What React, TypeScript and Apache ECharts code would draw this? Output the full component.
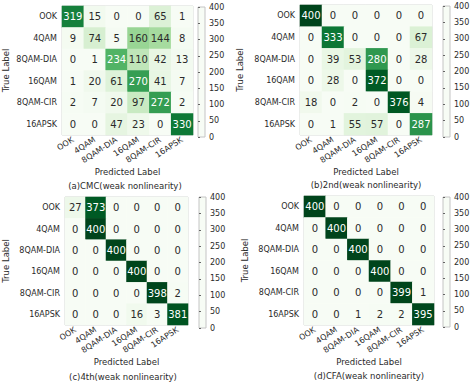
import React, { useEffect, useRef } from "react";
import * as echarts from "echarts";

const classes = ["OOK", "4QAM", "8QAM-DIA", "16QAM", "8QAM-CIR", "16APSK"];
const colorbarTicks = [0, 50, 100, 150, 200, 250, 300, 350, 400];

const cmcValues = [
  [319, 15, 0, 0, 65, 1],
  [9, 74, 5, 160, 144, 8],
  [0, 1, 234, 110, 42, 13],
  [1, 20, 61, 270, 41, 7],
  [2, 7, 20, 97, 272, 2],
  [0, 0, 47, 23, 0, 330],
];
const secondValues = [
  [400, 0, 0, 0, 0, 0],
  [0, 333, 0, 0, 0, 67],
  [0, 39, 53, 280, 0, 28],
  [0, 28, 0, 372, 0, 0],
  [18, 0, 2, 0, 376, 4],
  [0, 1, 55, 57, 0, 287],
];
const fourthValues = [
  [27, 373, 0, 0, 0, 0],
  [0, 400, 0, 0, 0, 0],
  [0, 0, 400, 0, 0, 0],
  [0, 0, 0, 400, 0, 0],
  [0, 0, 0, 0, 398, 2],
  [0, 0, 0, 16, 3, 381],
];
const cfaValues = [
  [400, 0, 0, 0, 0, 0],
  [0, 400, 0, 0, 0, 0],
  [0, 0, 400, 0, 0, 0],
  [0, 0, 0, 400, 0, 0],
  [0, 0, 0, 0, 399, 1],
  [0, 0, 1, 2, 2, 395],
];
const captions = [
  "(a)CMC(weak nonlinearity)",
  "(b)2nd(weak nonlinearity)",
  "(c)4th(weak nonlinearity)",
  "(d)CFA(weak nonlinearity)",
];

const greens = ["#f7fcf5", "#e5f5e0", "#c7e9c0", "#a1d99b", "#74c476", "#41ab5d", "#238b45", "#006d2c", "#00441b"];
const FONT = "DejaVu Sans";
const TXT = "#2a2a2a";

export default function App() {
  const ref = useRef<HTMLDivElement>(null);
  useEffect(() => {
    if (!ref.current) return;
    const chart = echarts.init(ref.current, null, { renderer: "svg" });
    const matrices = [cmcValues, secondValues, fourthValues, cfaValues];
    const layouts = [
      { grid: { left: 57, top: 6, width: 136, height: 129 }, bar: { left: 198, top: 7, width: 7, height: 130 }, yGap: 52, xGap: 32, cap: { x: 125, y: 186 } },
      { grid: { left: 300, top: 5, width: 132, height: 130 }, bar: { left: 443, top: 6, width: 7, height: 131 }, yGap: 56, xGap: 31, cap: { x: 366, y: 185 } },
      { grid: { left: 60, top: 197, width: 128, height: 128 }, bar: { left: 199, top: 197, width: 7, height: 131 }, yGap: 55, xGap: 32, cap: { x: 123, y: 377 } },
      { grid: { left: 304, top: 196, width: 130, height: 129 }, bar: { left: 443, top: 197, width: 7, height: 130 }, yGap: 55, xGap: 31, cap: { x: 369, y: 376 } },
    ];
    const gradStops = greens.map((c, i) => ({ offset: 1 - i / (greens.length - 1), color: c }));
    const grids: any[] = [];
    const xAxes: any[] = [];
    const yAxes: any[] = [];
    const series: any[] = [];
    const graphics: any[] = [];
    layouts.forEach((l, k) => {
      grids.push({ ...l.grid, show: true, borderColor: "#cfcfcf", borderWidth: 1, backgroundColor: "transparent" });
      grids.push({
        ...l.bar,
        show: true,
        borderColor: "#c4c4c4",
        borderWidth: 1,
        backgroundColor: new echarts.graphic.LinearGradient(0, 0, 0, 1, gradStops),
      });
      xAxes.push({
        type: "category",
        gridIndex: 2 * k,
        data: classes,
        axisLine: { show: false },
        axisTick: { show: false },
        splitLine: { show: false },
        axisLabel: { rotate: 33, fontSize: 8, color: TXT, fontFamily: FONT, margin: 4, interval: 0 },
        name: "Predicted Label",
        nameLocation: "middle",
        nameGap: l.xGap,
        nameTextStyle: { fontSize: 8.5, color: TXT, fontFamily: FONT },
      });
      yAxes.push({
        type: "category",
        gridIndex: 2 * k,
        data: classes,
        inverse: true,
        axisLine: { show: false },
        axisTick: { show: false },
        splitLine: { show: false },
        axisLabel: { fontSize: 8, color: TXT, fontFamily: FONT, margin: 5 },
        name: "True Label",
        nameLocation: "middle",
        nameRotate: 90,
        nameGap: l.yGap,
        nameTextStyle: { fontSize: 8.5, color: TXT, fontFamily: FONT },
      });
      xAxes.push({ type: "value", gridIndex: 2 * k + 1, show: false, min: 0, max: 1 });
      yAxes.push({
        type: "value",
        gridIndex: 2 * k + 1,
        position: "right",
        min: 0,
        max: 400,
        interval: 50,
        axisLine: { show: false },
        axisTick: { show: true, length: 2, lineStyle: { color: "#666" } },
        splitLine: { show: false },
        axisLabel: {
          fontSize: 8,
          color: TXT,
          fontFamily: FONT,
          margin: 4,
          formatter: (v: number) => (colorbarTicks.includes(v) ? String(v) : ""),
        },
      });
      const data: any[] = [];
      matrices[k].forEach((row, r) =>
        row.forEach((v, c) =>
          data.push({
            value: [c, r, v],
            label: { color: v > 200 ? "#ffffff" : TXT },
          })
        )
      );
      series.push({
        type: "heatmap",
        xAxisIndex: 2 * k,
        yAxisIndex: 2 * k,
        data,
        label: { show: true, fontSize: 10, fontFamily: FONT },
        itemStyle: { borderWidth: 0 },
        emphasis: { disabled: true },
      });
      graphics.push({
        type: "text",
        x: l.cap.x,
        y: l.cap.y,
        style: {
          text: captions[k],
          fill: TXT,
          font: `8.5px "${FONT}"`,
          textAlign: "center",
          textVerticalAlign: "middle",
        },
      });
    });
    chart.setOption({
      animation: false,
      backgroundColor: "#ffffff",
      grid: grids,
      xAxis: xAxes,
      yAxis: yAxes,
      visualMap: {
        show: false,
        type: "continuous",
        min: 0,
        max: 400,
        seriesIndex: [0, 1, 2, 3],
        inRange: { color: greens },
      },
      series,
      graphic: graphics,
    });
    return () => chart.dispose();
  }, []);
  return <div ref={ref} style={{ position: "fixed", left: 0, top: 0, width: 474, height: 382 }} />;
}
